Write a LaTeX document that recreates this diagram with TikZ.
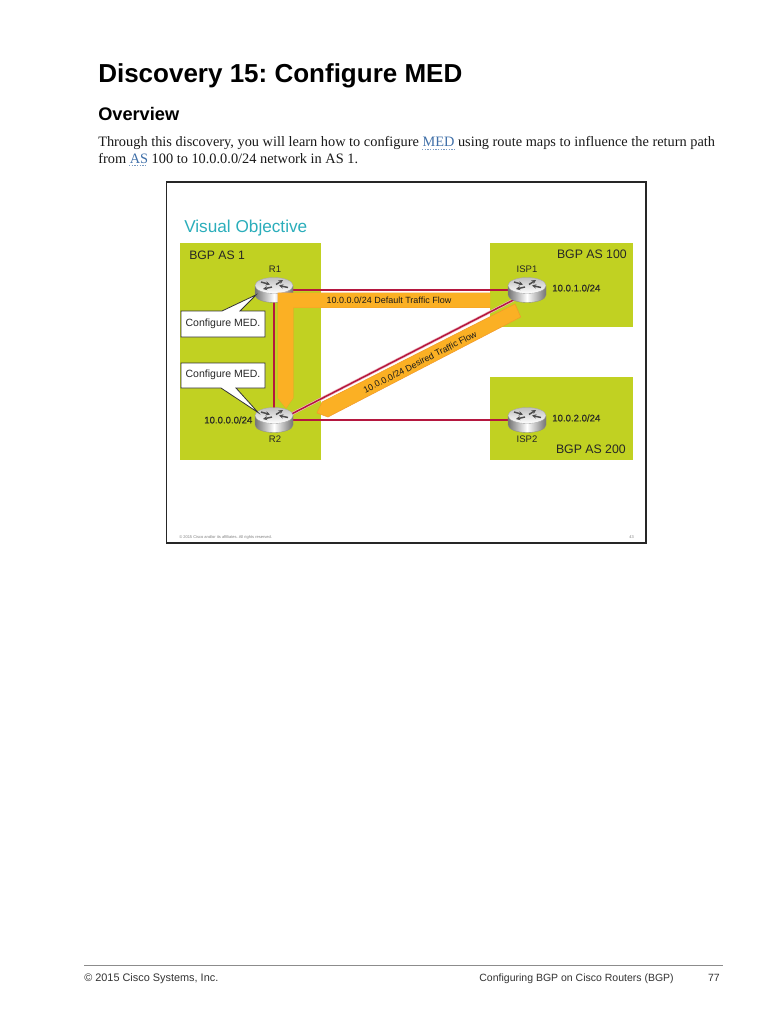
\documentclass[tikz,border=0pt]{standalone}
\usepackage{fontspec}
\setmainfont{Liberation Sans}
\newfontfamily\timesf{Liberation Serif}
\usetikzlibrary{arrows.meta,shapes.geometric}
\definecolor{asgreen}{HTML}{C1D122}
\definecolor{flowor}{HTML}{FBB024}
\definecolor{flowedge}{HTML}{F39A2A}
\definecolor{linkred}{HTML}{B5173F}
\definecolor{linkpale}{HTML}{F0B8C0}
\definecolor{teal}{HTML}{2BAEBB}
\definecolor{medblue}{HTML}{3F6FA8}
\newcommand{\px}[1]{\fontsize{\dimexpr #1pt*3/4\relax}{\dimexpr #1pt\relax}\selectfont}
\newlength{\pxu}\setlength{\pxu}{0.75pt}
\tikzset{
 rtbase/.style={ellipse,minimum width=38\pxu,minimum height=25\pxu,inner sep=0pt},
 lbl/.style={inner sep=0pt,text=black!85},
 flow/.style={fill=flowor,draw=flowedge,line width=0.4pt},
 callout/.style={fill=white,draw=black!80,line width=0.6pt},
 linkunder/.style={linkpale,line width=2.1pt},
 linkover/.style={linkred,line width=1.1pt},
 rarrow/.style={black!70,line width=1.1pt,-{Stealth[length=3.2pt,width=3.2pt]}},
}
\newcommand{\routerpic}[1]{%
 \begin{scope}[shift={(#1)}]
  \path[left color=black!55,right color=black!55,middle color=white,draw=black!45,line width=0.25pt]
    (-19,-4.5) -- (-19,5) arc[start angle=180,end angle=0,x radius=19,y radius=7.5] -- (19,-4.5) -- cycle;
  \path[top color=black!25,bottom color=white,draw=black!35,line width=0.25pt]
    (0,-4.5) ellipse[x radius=19,y radius=8];
  \draw[rarrow] (-13,-8) -- (-4,-5.5);
  \draw[rarrow] (-2,-3) -- (-11,-1);
  \draw[rarrow] (2,-5.5) -- (9,-10);
  \draw[rarrow] (14,-2.5) -- (5,-4.5);
 \end{scope}}
\begin{document}
\frenchspacing
\begin{tikzpicture}[x=0.75pt,y=-0.75pt]
\useasboundingbox (0,0) rectangle (768,1024);
\fill[white] (0,0) rectangle (768,1024);
% page header
\node[anchor=base west,inner sep=0pt] (title) at (98,83) {\px{26}\bfseries Discovery 15: Configure MED};
\node[anchor=base west,inner sep=0pt] (over) at (98,120) {\px{18.2}\bfseries Overview};
\node[anchor=base west,inner sep=0pt,text=black!90] (body1) at (98,146) {\px{14.35}\timesf Through this discovery, you will learn how to configure \textcolor{medblue}{MED} using route maps to influence the return path};
\node[anchor=base west,inner sep=0pt,text=black!90] (body2) at (98,163) {\px{14.35}\timesf from \textcolor{medblue}{AS} 100 to 10.0.0.0/24 network in AS 1.};
\draw[medblue!70,line width=0.5pt,dash pattern=on 1pt off 1pt] (422,149) -- (455,149);
\draw[medblue!70,line width=0.5pt,dash pattern=on 1pt off 1pt] (129,165.5) -- (147,165.5);
% panel
\draw[black!85,line width=1.1pt,fill=white] (166.5,182) rectangle (646,543);
\node[anchor=base west,inner sep=0pt,text=teal] (vo) at (184,232) {\px{17.2}Visual Objective};
% AS boxes
\fill[asgreen] (180,243) rectangle (321,460);
\fill[asgreen] (490,243) rectangle (633,327);
\fill[asgreen] (490,377) rectangle (633,460);
\node[lbl,anchor=base west] (as1) at (189,259) {\px{12.2}BGP AS 1};
\node[lbl,anchor=base east] (as100) at (627,258.5) {\px{12.3}BGP AS 100};
\node[lbl,anchor=base east] (as200) at (626,453.5) {\px{12.3}BGP AS 200};
% routers as nodes
\node[rtbase] (R1) at (274,290) {};
\node[rtbase] (R2) at (274,420) {};
\node[rtbase] (ISP1) at (527,290) {};
\node[rtbase] (ISP2) at (527,420) {};
% links
\foreach \k in {linkunder,linkover}{
 \draw[\k] (R1.center) -- (R2.center);
 \draw[\k] (R1.center) -- (ISP1.center);
 \draw[\k] (R2.center) -- (ISP2.center);
 \draw[\k] ([yshift=-2.25pt]R2.center) -- ([yshift=-2.25pt]ISP1.center);
}
% router pictures
\routerpic{R1.center}
\routerpic{R2.center}
\routerpic{ISP1.center}
\routerpic{ISP2.center}
% flows
\draw[flow] (490,293) -- (278,293) -- (278,398) -- (286,408) -- (293,398) -- (293,307.5) -- (490,307.5);
\fill[flowor] (490,293) -- (278,293) -- (278,398) -- (286,408) -- (293,398) -- (293,307.5) -- (490,307.5) -- cycle;
\draw[flow] (515,304) -- (322,402) -- (317,413) -- (328,417) -- (520.7,317) -- cycle;
\node[lbl,text=black!90] (deflbl) at (389,300) {\px{9}10.0.0.0/24 Default Traffic Flow};
\node[lbl,text=black!90,rotate=27] (deslbl) at (420,362) {\px{8.9}10.0.0.0/24 Desired Traffic Flow};
\node[lbl] (r1l) at (275,269) {\px{9.5}R1};
\node[lbl] (r2l) at (275,439.5) {\px{9.5}R2};
\node[lbl] (i1l) at (527,269) {\px{9.5}ISP1};
\node[lbl] (i2l) at (527,439.5) {\px{9.5}ISP2};
\node[lbl,anchor=west] (n0) at (204,420) {\px{9.6}\addfontfeature{FakeBold=0.4}10.0.0.0/24};
\node[lbl,anchor=west] (n1) at (552,288) {\px{9.6}\addfontfeature{FakeBold=0.4}10.0.1.0/24};
\node[lbl,anchor=west] (n2) at (552,418) {\px{9.6}\addfontfeature{FakeBold=0.4}10.0.2.0/24};
% callouts
\draw[callout] (181,311) -- (222,311) -- (R1.195) -- (240,311) -- (265,311) -- (265,337) -- (181,337) -- cycle;
\draw[callout] (181,363) -- (265,363) -- (265,388) -- (236,388) -- (R2.155) -- (221,388) -- (181,388) -- cycle;
\node[lbl] (c1) at (223,324) {\px{10.5}Configure MED.};
\node[lbl] (c2) at (223,375) {\px{10.5}Configure MED.};
% panel footer
\node[lbl,anchor=west,text=black!50] (pf) at (179,537) {\px{4}\textcopyright\ 2015 Cisco and/or its affiliates. All rights reserved.};
\node[lbl,anchor=east,text=black!50] (pn) at (634,537) {\px{4}43};
% page footer
\draw[black!45,line width=0.7pt] (84,965) -- (723,965);
\node[lbl,anchor=base west,text=black!80] (f1) at (84,981) {\px{10.9}\textcopyright\ 2015 Cisco Systems, Inc.};
\node[lbl,anchor=base east,text=black!80] (f2) at (674,981) {\px{10.5}Configuring BGP on Cisco Routers (BGP)};
\node[lbl,anchor=base east,text=black!80] (f3) at (720,981) {\px{10.5}77};
\end{tikzpicture}
\end{document}
